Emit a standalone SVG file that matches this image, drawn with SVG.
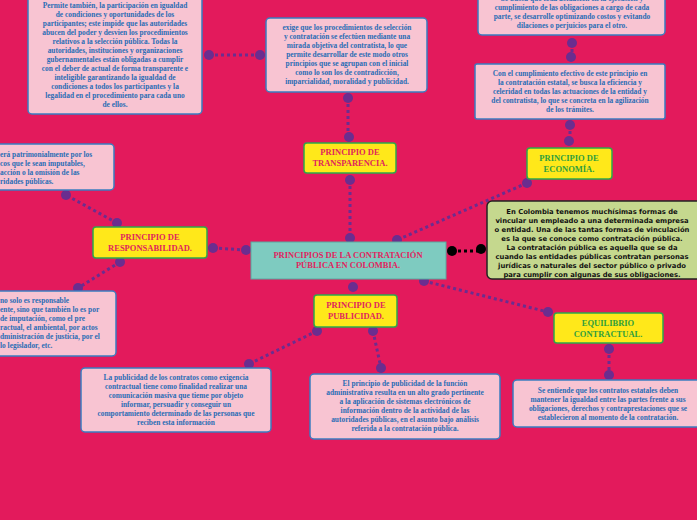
<svg xmlns="http://www.w3.org/2000/svg" width="697" height="520" viewBox="0 0 697 520">
<style>
.bx{fill:#F8C4D2;stroke:#3A7CC0;stroke-width:1.5}
.nd{fill:#FFE81A;stroke:#2FA84A;stroke-width:1.5}
.t{font-family:"Liberation Serif",serif;font-weight:bold;font-size:7.4px;fill:#2A6DB5;text-anchor:middle}
.tr{font-family:"Liberation Serif",serif;font-weight:bold;font-size:8.5px;fill:#E0245E;text-anchor:middle}
.tg{font-family:"Liberation Serif",serif;font-weight:bold;font-size:8.5px;fill:#2E9E3E;text-anchor:middle}
.ts{font-family:"DejaVu Sans",sans-serif;font-weight:bold;font-size:6.8px;fill:#111;text-anchor:middle}
.c{stroke:#6B2D8F;stroke-width:3;stroke-dasharray:3 3;fill:none}
.d{fill:#6B2D8F}
</style>
<rect width="697" height="520" fill="#E31A5C"/>
<g id="connectors">
<path class="c" d="M209 55H260M348 98V137M350 180V240M572 43V57M570 125V141M527 183L397 240M246 250L213 248M117 223L66 195M120 262L78 288M317 331L249 364M373 331L381 368M424 281L548 312M609 349V375"/>
<path d="M452 251H481" stroke="#000" stroke-width="3" stroke-dasharray="3 3"/>
<g class="d">
<circle cx="209" cy="55" r="5"/><circle cx="260" cy="55" r="5"/>
<circle cx="348" cy="98" r="5"/><circle cx="349" cy="137" r="5"/>
<circle cx="350" cy="180" r="5"/><circle cx="350" cy="238" r="5"/>
<circle cx="572" cy="43" r="5"/><circle cx="571" cy="57" r="5"/>
<circle cx="570" cy="125" r="5"/><circle cx="569" cy="141" r="5"/>
<circle cx="527" cy="183" r="5"/><circle cx="397" cy="240" r="5"/>
<circle cx="246" cy="250" r="5"/><circle cx="213" cy="248" r="5"/>
<circle cx="117" cy="223" r="5"/><circle cx="66" cy="195" r="5"/>
<circle cx="120" cy="262" r="5"/><circle cx="78" cy="288" r="5"/>
<circle cx="353" cy="287" r="5"/>
<circle cx="317" cy="331" r="5"/><circle cx="249" cy="364" r="5"/>
<circle cx="373" cy="331" r="5"/><circle cx="381" cy="368" r="5"/>
<circle cx="424" cy="281" r="5"/><circle cx="548" cy="312" r="5"/>
<circle cx="609" cy="349" r="5"/><circle cx="609" cy="375" r="5"/>
</g>
<circle cx="452" cy="251" r="5" fill="#000"/><circle cx="481" cy="249" r="5" fill="#000"/>
</g>
<g id="box1"><rect class="bx" x="28" y="-10" width="174" height="124" rx="4"/>
<text class="t"><tspan x="115" y="8">Permite también, la participación en igualdad</tspan><tspan x="115" y="17">de condiciones y oportunidades de los</tspan><tspan x="115" y="26">participantes; este impide que las autoridades</tspan><tspan x="115" y="35">abucen del poder y desvien los procedimientos</tspan><tspan x="115" y="44">relativos a la selección pública. Todas la</tspan><tspan x="115" y="53">autoridades, instituciones y organizaciones</tspan><tspan x="115" y="62">gubernamentales están obligadas a cumplir</tspan><tspan x="115" y="71">con el deber de actual de forma transparente e</tspan><tspan x="115" y="80">inteligible garantizando la igualdad de</tspan><tspan x="115" y="89">condiciones a todos los participantes y la</tspan><tspan x="115" y="98">legalidad en el procedimiento para cada uno</tspan><tspan x="115" y="107">de ellos.</tspan></text></g>
<g id="transdesc"><rect class="bx" x="266" y="18" width="161" height="74" rx="4"/>
<text class="t"><tspan x="347" y="30">exige que los procedimientos de selección</tspan><tspan x="347" y="39">y contratación se efectúen mediante una</tspan><tspan x="347" y="48">mirada objetiva del contratista, lo que</tspan><tspan x="347" y="57">permite desarrollar de este modo otros</tspan><tspan x="347" y="66">principios que se agrupan con el inicial</tspan><tspan x="347" y="75">como lo son los de contradicción,</tspan><tspan x="347" y="84">imparcialidad, moralidad y publicidad.</tspan></text></g>
<g id="transparencia"><rect class="nd" x="304" y="143" width="92" height="30" rx="3"/>
<text class="tr"><tspan x="350" y="155">PRINCIPIO DE</tspan><tspan x="350" y="166">TRANSPARENCIA.</tspan></text></g>
<g id="topright"><rect class="bx" x="478" y="-10" width="187" height="45" rx="4"/>
<text class="t"><tspan x="572" y="1">Se busca que toda actuación en la ejecución y</tspan><tspan x="572" y="10">cumplimiento de las obligaciones a cargo de cada</tspan><tspan x="572" y="19">parte, se desarrolle optimizando costos y evitando</tspan><tspan x="572" y="28">dilaciones o perjuicios para el otro.</tspan></text></g>
<g id="econdesc"><rect class="bx" x="475" y="64" width="190" height="55" rx="2"/>
<text class="t"><tspan x="570" y="76">Con el cumplimiento efectivo de este principio en</tspan><tspan x="570" y="85">la contratación estatal, se busca la eficiencia y</tspan><tspan x="570" y="94">celeridad en todas las actuaciones de la entidad y</tspan><tspan x="570" y="103">del contratista, lo que se concreta en la agilización</tspan><tspan x="570" y="112">de los trámites.</tspan></text></g>
<g id="economia"><rect class="nd" x="527" y="148" width="85" height="31" rx="3"/>
<text class="tg"><tspan x="569" y="161">PRINCIPIO DE</tspan><tspan x="569" y="172">ECONOMÍA.</tspan></text></g>
<g id="green"><rect x="487" y="201" width="215" height="78" rx="5" fill="#C5D88E" stroke="#222" stroke-width="1.5"/>
<text class="ts"><tspan x="592" y="214">En Colombia tenemos muchísimas formas de</tspan><tspan x="592" y="223">vincular un empleado a una determinada empresa</tspan><tspan x="592" y="232">o entidad. Una de las tantas formas de vinculación</tspan><tspan x="592" y="241">es la que se conoce como contratación pública.</tspan><tspan x="592" y="250">La contratación pública es aquella que se da</tspan><tspan x="592" y="259">cuando las entidades públicas contratan personas</tspan><tspan x="592" y="268">jurídicas o naturales del sector público o privado</tspan><tspan x="592" y="277">para cumplir con algunas de sus obligaciones.</tspan></text></g>
<g id="center"><rect x="251" y="242" width="195" height="37" fill="#7ECBC0" stroke="#5BA8A0"/>
<text class="tr"><tspan x="348" y="258">PRINCIPIOS DE LA CONTRATACIÓN</tspan><tspan x="348" y="268">PÚBLICA EN COLOMBIA.</tspan></text></g>
<g id="responsabilidad"><rect class="nd" x="93" y="227" width="114" height="31" rx="3"/>
<text class="tr"><tspan x="150" y="240">PRINCIPIO DE</tspan><tspan x="150" y="251">RESPONSABILIDAD.</tspan></text></g>
<g id="respbox1"><rect class="bx" x="-10" y="144" width="124" height="46" rx="4"/>
<text class="t" style="text-anchor:start"><tspan x="0" y="157">erá patrimonialmente por los</tspan><tspan x="0" y="166">cos que le sean imputables,</tspan><tspan x="0" y="175">acción o la omisión de las</tspan><tspan x="0" y="184">ridades públicas.</tspan></text></g>
<g id="respbox2"><rect class="bx" x="-10" y="291" width="126" height="65" rx="4"/>
<text class="t" style="text-anchor:start"><tspan x="0" y="303">no solo es responsable</tspan><tspan x="0" y="312">ente, sino que también lo es por</tspan><tspan x="0" y="321">de imputación, como el pre</tspan><tspan x="0" y="330">ractual, el ambiental, por actos</tspan><tspan x="0" y="339">dministración de justicia, por el</tspan><tspan x="0" y="348">lo legislador, etc.</tspan></text></g>
<g id="publicidad"><rect class="nd" x="314" y="295" width="83" height="32" rx="3"/>
<text class="tr"><tspan x="356" y="308">PRINCIPIO DE</tspan><tspan x="356" y="319">PUBLICIDAD.</tspan></text></g>
<g id="pubbox1"><rect class="bx" x="81" y="368" width="190" height="64" rx="4"/>
<text class="t"><tspan x="176" y="380">La publicidad de los contratos como exigencia</tspan><tspan x="176" y="389">contractual tiene como finalidad realizar una</tspan><tspan x="176" y="398">comunicación masiva que tieme por objeto</tspan><tspan x="176" y="407">informar, persuadir y conseguir un</tspan><tspan x="176" y="416">comportamiento determinado de las personas que</tspan><tspan x="176" y="425">reciben esta información</tspan></text></g>
<g id="pubbox2"><rect class="bx" x="310" y="374" width="190" height="65" rx="4"/>
<text class="t"><tspan x="405" y="386">El principio de publicidad de la función</tspan><tspan x="405" y="395">administrativa resulta en un alto grado pertinente</tspan><tspan x="405" y="404">a la aplicación de sistemas electrónicos de</tspan><tspan x="405" y="413">información dentro de la actividad de las</tspan><tspan x="405" y="422">autoridades públicas, en el asunto bajo análisis</tspan><tspan x="405" y="431">referida a la contratación pública.</tspan></text></g>
<g id="equilibrio"><rect class="nd" x="554" y="313" width="109" height="30" rx="3"/>
<text class="tg"><tspan x="608" y="326">EQUILIBRIO</tspan><tspan x="608" y="337">CONTRACTUAL.</tspan></text></g>
<g id="eqbox"><rect class="bx" x="513" y="380" width="190" height="47" rx="4"/>
<text class="t"><tspan x="608" y="393">Se entiende que los contratos estatales deben</tspan><tspan x="608" y="402">mantener la igualdad entre las partes frente a sus</tspan><tspan x="608" y="411">obligaciones, derechos y contraprestaciones que se</tspan><tspan x="608" y="420">establecieron al momento de la contratación.</tspan></text></g>
</svg>
